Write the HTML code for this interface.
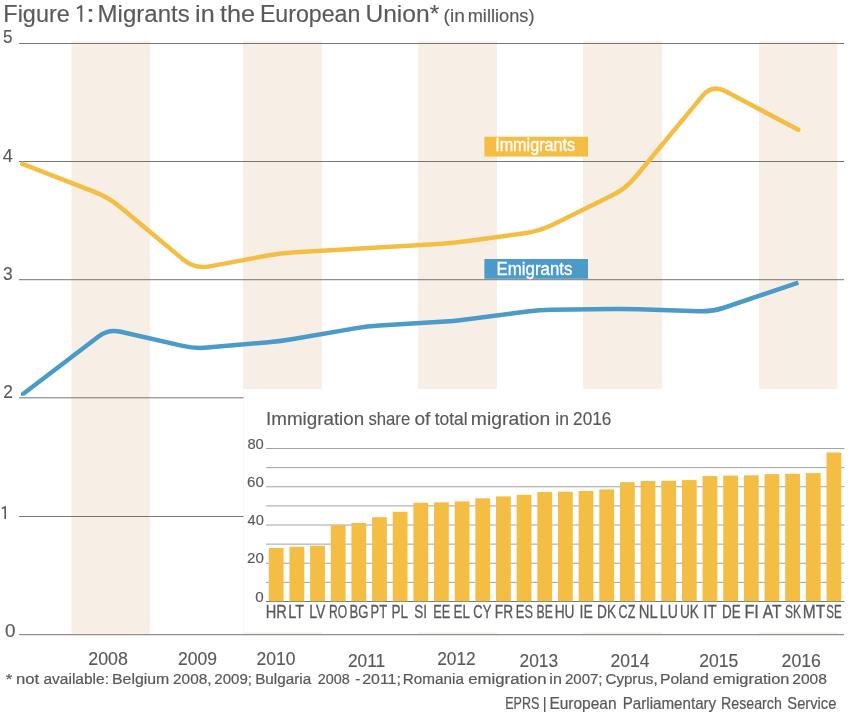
<!DOCTYPE html><html><head><meta charset="utf-8"><style>html,body{margin:0;padding:0;background:#fff;width:865px;height:720px;overflow:hidden}svg{display:block;will-change:transform}text{font-family:"Liberation Sans", sans-serif}</style></head><body>
<svg width="865" height="720" viewBox="0 0 865 720">
<rect x="71.40" y="41.5" width="78.60" height="592.5" fill="#f7eee6"/>
<rect x="243.00" y="41.5" width="79.00" height="592.5" fill="#f7eee6"/>
<rect x="418.00" y="41.5" width="79.00" height="592.5" fill="#f7eee6"/>
<rect x="583.00" y="41.5" width="79.00" height="592.5" fill="#f7eee6"/>
<rect x="759.00" y="41.5" width="78.50" height="592.5" fill="#f7eee6"/>
<rect x="19" y="43.00" width="825" height="1" fill="#767676"/>
<rect x="19" y="161.00" width="825" height="1" fill="#767676"/>
<rect x="19" y="279.20" width="825" height="1" fill="#767676"/>
<rect x="19" y="397.30" width="825" height="1" fill="#767676"/>
<rect x="19" y="516.00" width="825" height="1" fill="#767676"/>
<rect x="19" y="634.20" width="825" height="1" fill="#767676"/>
<clipPath id="ce"><rect x="21" y="0" width="844" height="395.8"/></clipPath>
<path d="M22.30,163.94 L94.46,191.93 Q108.52,197.39 120.12,207.04 L183.14,259.46 Q194.74,269.11 209.58,266.34 L266.13,255.80 Q280.97,253.03 296.03,252.20 L352.12,249.07 Q367.19,248.23 382.25,247.34 L438.35,244.02 Q453.41,243.13 468.36,241.05 L524.69,233.22 Q539.63,231.15 553.17,224.48 L612.32,195.33 Q625.86,188.66 635.46,177.03 L702.47,95.92 Q712.08,84.28 725.42,91.32 L798.30,129.74" fill="none" stroke="#f4be44" stroke-width="4.5" stroke-linecap="round" stroke-linejoin="round"/>
<path d="M19.12,396.94 L98.59,336.51 Q108.52,328.96 120.68,331.74 L182.59,345.90 Q194.74,348.69 207.17,347.60 L268.54,342.22 Q280.97,341.13 293.26,339.01 L354.90,328.36 Q367.19,326.24 379.64,325.49 L440.96,321.79 Q453.41,321.04 465.78,319.43 L527.27,311.43 Q539.63,309.82 552.10,309.67 L613.38,308.94 Q625.86,308.79 638.32,309.22 L699.61,311.31 Q712.08,311.74 723.90,307.75 L798.30,282.67" fill="none" stroke="#4a9bc9" stroke-width="4.5" stroke-linecap="butt" stroke-linejoin="round" clip-path="url(#ce)"/>
<rect x="484.4" y="136.7" width="103.6" height="19.9" fill="#f4be44"/>
<rect x="484.4" y="259" width="103.6" height="19.8" fill="#4a9bc9"/>
<rect x="243.5" y="389" width="602" height="243.5" fill="#fff"/>
<rect x="266" y="601.00" width="578.5" height="1" fill="#767676"/>
<rect x="266" y="581.88" width="578.5" height="1" fill="#a3a3a3"/>
<rect x="266" y="562.75" width="578.5" height="1" fill="#a3a3a3"/>
<rect x="266" y="543.62" width="578.5" height="1" fill="#a3a3a3"/>
<rect x="266" y="524.50" width="578.5" height="1" fill="#a3a3a3"/>
<rect x="266" y="505.38" width="578.5" height="1" fill="#a3a3a3"/>
<rect x="266" y="486.25" width="578.5" height="1" fill="#a3a3a3"/>
<rect x="266" y="467.12" width="578.5" height="1" fill="#a3a3a3"/>
<rect x="266" y="448.00" width="578.5" height="1" fill="#a3a3a3"/>
<rect x="268.80" y="548.00" width="14.8" height="53.30" fill="#f4be44"/>
<rect x="289.46" y="546.70" width="14.8" height="54.60" fill="#f4be44"/>
<rect x="310.11" y="545.80" width="14.8" height="55.50" fill="#f4be44"/>
<rect x="330.77" y="525.20" width="14.8" height="76.10" fill="#f4be44"/>
<rect x="351.42" y="523.00" width="14.8" height="78.30" fill="#f4be44"/>
<rect x="372.08" y="517.20" width="14.8" height="84.10" fill="#f4be44"/>
<rect x="392.74" y="511.80" width="14.8" height="89.50" fill="#f4be44"/>
<rect x="413.39" y="502.70" width="14.8" height="98.60" fill="#f4be44"/>
<rect x="434.05" y="502.30" width="14.8" height="99.00" fill="#f4be44"/>
<rect x="454.70" y="501.40" width="14.8" height="99.90" fill="#f4be44"/>
<rect x="475.36" y="498.30" width="14.8" height="103.00" fill="#f4be44"/>
<rect x="496.02" y="496.40" width="14.8" height="104.90" fill="#f4be44"/>
<rect x="516.67" y="494.80" width="14.8" height="106.50" fill="#f4be44"/>
<rect x="537.33" y="492.00" width="14.8" height="109.30" fill="#f4be44"/>
<rect x="557.98" y="491.70" width="14.8" height="109.60" fill="#f4be44"/>
<rect x="578.64" y="491.00" width="14.8" height="110.30" fill="#f4be44"/>
<rect x="599.30" y="489.40" width="14.8" height="111.90" fill="#f4be44"/>
<rect x="619.95" y="482.20" width="14.8" height="119.10" fill="#f4be44"/>
<rect x="640.61" y="481.00" width="14.8" height="120.30" fill="#f4be44"/>
<rect x="661.26" y="480.80" width="14.8" height="120.50" fill="#f4be44"/>
<rect x="681.92" y="480.10" width="14.8" height="121.20" fill="#f4be44"/>
<rect x="702.58" y="476.00" width="14.8" height="125.30" fill="#f4be44"/>
<rect x="723.23" y="475.60" width="14.8" height="125.70" fill="#f4be44"/>
<rect x="743.89" y="475.30" width="14.8" height="126.00" fill="#f4be44"/>
<rect x="764.54" y="474.10" width="14.8" height="127.20" fill="#f4be44"/>
<rect x="785.20" y="473.80" width="14.8" height="127.50" fill="#f4be44"/>
<rect x="805.86" y="473.10" width="14.8" height="128.20" fill="#f4be44"/>
<rect x="826.51" y="452.50" width="14.8" height="148.80" fill="#f4be44"/>
<text x="3.37" y="21.70" font-size="24.30" fill="#58595b" textLength="66.37" lengthAdjust="spacingAndGlyphs" stroke="#58595b" stroke-width="0.15">Figure</text>
<text x="86.00" y="21.70" font-size="24.30" fill="#58595b" textLength="9.02" lengthAdjust="spacingAndGlyphs" stroke="#58595b" stroke-width="0.15">:</text>
<text x="97.62" y="21.70" font-size="24.30" fill="#58595b" textLength="92.09" lengthAdjust="spacingAndGlyphs" stroke="#58595b" stroke-width="0.15">Migrants</text>
<text x="195.14" y="21.70" font-size="24.30" fill="#58595b" textLength="19.63" lengthAdjust="spacingAndGlyphs" stroke="#58595b" stroke-width="0.15">in</text>
<text x="220.04" y="21.70" font-size="24.30" fill="#58595b" textLength="35.13" lengthAdjust="spacingAndGlyphs" stroke="#58595b" stroke-width="0.15">the</text>
<text x="259.89" y="21.70" font-size="24.30" fill="#58595b" textLength="100.52" lengthAdjust="spacingAndGlyphs" stroke="#58595b" stroke-width="0.15">European</text>
<text x="365.43" y="21.70" font-size="24.30" fill="#58595b" textLength="73.83" lengthAdjust="spacingAndGlyphs" stroke="#58595b" stroke-width="0.15">Union*</text>
<text x="443.57" y="22.00" font-size="18.50" fill="#58595b" textLength="21.23" lengthAdjust="spacingAndGlyphs" stroke="#58595b" stroke-width="0.15">(in</text>
<text x="467.67" y="22.00" font-size="18.50" fill="#58595b" textLength="66.81" lengthAdjust="spacingAndGlyphs" stroke="#58595b" stroke-width="0.15">millions)</text>
<text x="3.12" y="43.00" font-size="18.75" fill="#58595b" textLength="9.51" lengthAdjust="spacingAndGlyphs" stroke="#58595b" stroke-width="0.15">5</text>
<text x="2.66" y="161.90" font-size="18.75" fill="#58595b" textLength="10.06" lengthAdjust="spacingAndGlyphs" stroke="#58595b" stroke-width="0.15">4</text>
<text x="3.05" y="279.60" font-size="18.75" fill="#58595b" textLength="9.68" lengthAdjust="spacingAndGlyphs" stroke="#58595b" stroke-width="0.15">3</text>
<text x="3.31" y="397.90" font-size="18.75" fill="#58595b" textLength="9.66" lengthAdjust="spacingAndGlyphs" stroke="#58595b" stroke-width="0.15">2</text>
<text x="5.05" y="636.50" font-size="18.75" fill="#58595b" textLength="10.44" lengthAdjust="spacingAndGlyphs" stroke="#58595b" stroke-width="0.15">0</text>
<text x="88.28" y="664.60" font-size="18.60" fill="#58595b" textLength="39.55" lengthAdjust="spacingAndGlyphs" stroke="#58595b" stroke-width="0.15">2008</text>
<text x="177.99" y="665.00" font-size="18.60" fill="#58595b" textLength="39.03" lengthAdjust="spacingAndGlyphs" stroke="#58595b" stroke-width="0.15">2009</text>
<text x="256.60" y="665.00" font-size="18.60" fill="#58595b" textLength="38.89" lengthAdjust="spacingAndGlyphs" stroke="#58595b" stroke-width="0.15">2010</text>
<text x="347.90" y="666.50" font-size="18.60" fill="#58595b" textLength="37.28" lengthAdjust="spacingAndGlyphs" stroke="#58595b" stroke-width="0.15">2011</text>
<text x="437.20" y="665.00" font-size="18.60" fill="#58595b" textLength="38.51" lengthAdjust="spacingAndGlyphs" stroke="#58595b" stroke-width="0.15">2012</text>
<text x="519.60" y="666.50" font-size="18.60" fill="#58595b" textLength="38.51" lengthAdjust="spacingAndGlyphs" stroke="#58595b" stroke-width="0.15">2013</text>
<text x="610.59" y="667.30" font-size="18.60" fill="#58595b" textLength="38.89" lengthAdjust="spacingAndGlyphs" stroke="#58595b" stroke-width="0.15">2014</text>
<text x="699.19" y="666.60" font-size="18.60" fill="#58595b" textLength="39.03" lengthAdjust="spacingAndGlyphs" stroke="#58595b" stroke-width="0.15">2015</text>
<text x="781.59" y="666.60" font-size="18.60" fill="#58595b" textLength="39.35" lengthAdjust="spacingAndGlyphs" stroke="#58595b" stroke-width="0.15">2016</text>
<text x="5.83" y="683.70" font-size="15.30" fill="#58595b" textLength="6.49" lengthAdjust="spacingAndGlyphs" stroke="#58595b" stroke-width="0.22">*</text>
<text x="15.90" y="683.70" font-size="15.30" fill="#58595b" textLength="23.31" lengthAdjust="spacingAndGlyphs" stroke="#58595b" stroke-width="0.22">not</text>
<text x="43.49" y="683.70" font-size="15.30" fill="#58595b" textLength="65.52" lengthAdjust="spacingAndGlyphs" stroke="#58595b" stroke-width="0.22">available:</text>
<text x="112.01" y="683.70" font-size="15.30" fill="#58595b" textLength="57.25" lengthAdjust="spacingAndGlyphs" stroke="#58595b" stroke-width="0.22">Belgium</text>
<text x="173.05" y="683.70" font-size="15.30" fill="#58595b" textLength="38.44" lengthAdjust="spacingAndGlyphs" stroke="#58595b" stroke-width="0.22">2008,</text>
<text x="214.36" y="683.70" font-size="15.30" fill="#58595b" textLength="37.59" lengthAdjust="spacingAndGlyphs" stroke="#58595b" stroke-width="0.22">2009;</text>
<text x="255.15" y="683.70" font-size="15.30" fill="#58595b" textLength="56.02" lengthAdjust="spacingAndGlyphs" stroke="#58595b" stroke-width="0.22">Bulgaria</text>
<text x="317.79" y="683.70" font-size="15.30" fill="#58595b" textLength="32.00" lengthAdjust="spacingAndGlyphs" stroke="#58595b" stroke-width="0.22">2008</text>
<text x="355.30" y="683.70" font-size="15.30" fill="#58595b" textLength="5.11" lengthAdjust="spacingAndGlyphs" stroke="#58595b" stroke-width="0.22">-</text>
<text x="362.22" y="683.70" font-size="15.30" fill="#58595b" textLength="38.64" lengthAdjust="spacingAndGlyphs" stroke="#58595b" stroke-width="0.22">2011;</text>
<text x="402.75" y="683.70" font-size="15.30" fill="#58595b" textLength="61.12" lengthAdjust="spacingAndGlyphs" stroke="#58595b" stroke-width="0.22">Romania</text>
<text x="468.25" y="683.70" font-size="15.30" fill="#58595b" textLength="78.26" lengthAdjust="spacingAndGlyphs" stroke="#58595b" stroke-width="0.22">emigration</text>
<text x="549.35" y="683.70" font-size="15.30" fill="#58595b" textLength="12.50" lengthAdjust="spacingAndGlyphs" stroke="#58595b" stroke-width="0.22">in</text>
<text x="564.96" y="683.70" font-size="15.30" fill="#58595b" textLength="37.59" lengthAdjust="spacingAndGlyphs" stroke="#58595b" stroke-width="0.22">2007;</text>
<text x="605.46" y="683.70" font-size="15.30" fill="#58595b" textLength="52.13" lengthAdjust="spacingAndGlyphs" stroke="#58595b" stroke-width="0.22">Cyprus,</text>
<text x="659.92" y="683.70" font-size="15.30" fill="#58595b" textLength="48.90" lengthAdjust="spacingAndGlyphs" stroke="#58595b" stroke-width="0.22">Poland</text>
<text x="712.97" y="683.70" font-size="15.30" fill="#58595b" textLength="76.42" lengthAdjust="spacingAndGlyphs" stroke="#58595b" stroke-width="0.22">emigration</text>
<text x="792.24" y="683.70" font-size="15.30" fill="#58595b" textLength="34.60" lengthAdjust="spacingAndGlyphs" stroke="#58595b" stroke-width="0.22">2008</text>
<text x="505.25" y="708.60" font-size="16.40" fill="#58595b" textLength="34.04" lengthAdjust="spacingAndGlyphs" stroke="#58595b" stroke-width="0.22">EPRS</text>
<text x="542.54" y="708.60" font-size="16.40" fill="#58595b" textLength="4.44" lengthAdjust="spacingAndGlyphs">|</text>
<text x="549.42" y="708.60" font-size="16.40" fill="#58595b" textLength="67.18" lengthAdjust="spacingAndGlyphs" stroke="#58595b" stroke-width="0.22">European</text>
<text x="622.74" y="708.60" font-size="16.40" fill="#58595b" textLength="93.47" lengthAdjust="spacingAndGlyphs" stroke="#58595b" stroke-width="0.22">Parliamentary</text>
<text x="721.02" y="708.60" font-size="16.40" fill="#58595b" textLength="60.77" lengthAdjust="spacingAndGlyphs" stroke="#58595b" stroke-width="0.22">Research</text>
<text x="787.33" y="708.60" font-size="16.40" fill="#58595b" textLength="49.06" lengthAdjust="spacingAndGlyphs" stroke="#58595b" stroke-width="0.22">Service</text>
<text x="495.15" y="150.80" font-size="18.00" fill="#fff" textLength="79.91" lengthAdjust="spacingAndGlyphs" stroke="#fff" stroke-width="0.35">Immigrants</text>
<text x="496.60" y="274.70" font-size="18.00" fill="#fff" textLength="75.80" lengthAdjust="spacingAndGlyphs" stroke="#fff" stroke-width="0.35">Emigrants</text>
<text x="266.05" y="425.00" font-size="18.75" fill="#58595b" textLength="98.16" lengthAdjust="spacingAndGlyphs" stroke="#58595b" stroke-width="0.15">Immigration</text>
<text x="368.46" y="425.00" font-size="18.75" fill="#58595b" textLength="41.73" lengthAdjust="spacingAndGlyphs" stroke="#58595b" stroke-width="0.15">share</text>
<text x="414.44" y="425.00" font-size="18.75" fill="#58595b" textLength="15.95" lengthAdjust="spacingAndGlyphs" stroke="#58595b" stroke-width="0.15">of</text>
<text x="434.67" y="425.00" font-size="18.75" fill="#58595b" textLength="32.95" lengthAdjust="spacingAndGlyphs" stroke="#58595b" stroke-width="0.15">total</text>
<text x="470.81" y="425.00" font-size="18.75" fill="#58595b" textLength="79.55" lengthAdjust="spacingAndGlyphs" stroke="#58595b" stroke-width="0.15">migration</text>
<text x="555.33" y="425.00" font-size="18.75" fill="#58595b" textLength="13.70" lengthAdjust="spacingAndGlyphs" stroke="#58595b" stroke-width="0.15">in</text>
<text x="573.11" y="425.00" font-size="18.75" fill="#58595b" textLength="38.25" lengthAdjust="spacingAndGlyphs" stroke="#58595b" stroke-width="0.15">2016</text>
<text x="255.20" y="601.70" font-size="15.20" fill="#58595b" textLength="8.45" lengthAdjust="spacingAndGlyphs" stroke="#58595b" stroke-width="0.15">0</text>
<text x="247.05" y="563.41" font-size="15.20" fill="#58595b" textLength="16.80" lengthAdjust="spacingAndGlyphs" stroke="#58595b" stroke-width="0.15">20</text>
<text x="247.56" y="525.12" font-size="15.20" fill="#58595b" textLength="16.27" lengthAdjust="spacingAndGlyphs" stroke="#58595b" stroke-width="0.15">40</text>
<text x="247.05" y="486.83" font-size="15.20" fill="#58595b" textLength="16.80" lengthAdjust="spacingAndGlyphs" stroke="#58595b" stroke-width="0.15">60</text>
<text x="247.41" y="448.54" font-size="15.20" fill="#58595b" textLength="16.42" lengthAdjust="spacingAndGlyphs" stroke="#58595b" stroke-width="0.15">80</text>
<text x="265.72" y="617.70" font-size="18.50" fill="#58595b" textLength="21.06" lengthAdjust="spacingAndGlyphs" stroke="#58595b" stroke-width="0.30">HR</text>
<text x="288.33" y="617.70" font-size="18.50" fill="#58595b" textLength="15.74" lengthAdjust="spacingAndGlyphs" stroke="#58595b" stroke-width="0.30">LT</text>
<text x="309.16" y="617.70" font-size="18.50" fill="#58595b" textLength="16.15" lengthAdjust="spacingAndGlyphs" stroke="#58595b" stroke-width="0.30">LV</text>
<text x="329.02" y="617.70" font-size="18.50" fill="#58595b" textLength="18.17" lengthAdjust="spacingAndGlyphs" stroke="#58595b" stroke-width="0.30">RO</text>
<text x="349.44" y="617.70" font-size="18.50" fill="#58595b" textLength="18.94" lengthAdjust="spacingAndGlyphs" stroke="#58595b" stroke-width="0.30">BG</text>
<text x="370.54" y="617.70" font-size="18.50" fill="#58595b" textLength="16.63" lengthAdjust="spacingAndGlyphs" stroke="#58595b" stroke-width="0.30">PT</text>
<text x="391.50" y="617.70" font-size="18.50" fill="#58595b" textLength="16.57" lengthAdjust="spacingAndGlyphs" stroke="#58595b" stroke-width="0.30">PL</text>
<text x="414.25" y="617.70" font-size="18.50" fill="#58595b" textLength="12.82" lengthAdjust="spacingAndGlyphs" stroke="#58595b" stroke-width="0.30">SI</text>
<text x="433.17" y="617.70" font-size="18.50" fill="#58595b" textLength="17.01" lengthAdjust="spacingAndGlyphs" stroke="#58595b" stroke-width="0.30">EE</text>
<text x="453.52" y="617.70" font-size="18.50" fill="#58595b" textLength="16.35" lengthAdjust="spacingAndGlyphs" stroke="#58595b" stroke-width="0.30">EL</text>
<text x="473.30" y="617.70" font-size="18.50" fill="#58595b" textLength="18.02" lengthAdjust="spacingAndGlyphs" stroke="#58595b" stroke-width="0.30">CY</text>
<text x="494.79" y="617.70" font-size="18.50" fill="#58595b" textLength="18.30" lengthAdjust="spacingAndGlyphs" stroke="#58595b" stroke-width="0.30">FR</text>
<text x="515.86" y="617.70" font-size="18.50" fill="#58595b" textLength="17.09" lengthAdjust="spacingAndGlyphs" stroke="#58595b" stroke-width="0.30">ES</text>
<text x="536.61" y="617.70" font-size="18.50" fill="#58595b" textLength="16.35" lengthAdjust="spacingAndGlyphs" stroke="#58595b" stroke-width="0.30">BE</text>
<text x="554.69" y="617.70" font-size="18.50" fill="#58595b" textLength="19.83" lengthAdjust="spacingAndGlyphs" stroke="#58595b" stroke-width="0.30">HU</text>
<text x="579.47" y="617.70" font-size="18.50" fill="#58595b" textLength="13.29" lengthAdjust="spacingAndGlyphs" stroke="#58595b" stroke-width="0.30">IE</text>
<text x="597.09" y="617.70" font-size="18.50" fill="#58595b" textLength="19.06" lengthAdjust="spacingAndGlyphs" stroke="#58595b" stroke-width="0.30">DK</text>
<text x="618.62" y="617.70" font-size="18.50" fill="#58595b" textLength="16.77" lengthAdjust="spacingAndGlyphs" stroke="#58595b" stroke-width="0.30">CZ</text>
<text x="638.79" y="617.70" font-size="18.50" fill="#58595b" textLength="19.04" lengthAdjust="spacingAndGlyphs" stroke="#58595b" stroke-width="0.30">NL</text>
<text x="659.87" y="617.70" font-size="18.50" fill="#58595b" textLength="17.90" lengthAdjust="spacingAndGlyphs" stroke="#58595b" stroke-width="0.30">LU</text>
<text x="679.88" y="617.70" font-size="18.50" fill="#58595b" textLength="18.87" lengthAdjust="spacingAndGlyphs" stroke="#58595b" stroke-width="0.30">UK</text>
<text x="703.26" y="617.70" font-size="18.50" fill="#58595b" textLength="13.51" lengthAdjust="spacingAndGlyphs" stroke="#58595b" stroke-width="0.30">IT</text>
<text x="722.01" y="617.70" font-size="18.50" fill="#58595b" textLength="18.59" lengthAdjust="spacingAndGlyphs" stroke="#58595b" stroke-width="0.30">DE</text>
<text x="744.38" y="617.70" font-size="18.50" fill="#58595b" textLength="14.53" lengthAdjust="spacingAndGlyphs" stroke="#58595b" stroke-width="0.30">FI</text>
<text x="762.70" y="617.70" font-size="18.50" fill="#58595b" textLength="18.84" lengthAdjust="spacingAndGlyphs" stroke="#58595b" stroke-width="0.30">AT</text>
<text x="784.91" y="617.70" font-size="18.50" fill="#58595b" textLength="16.01" lengthAdjust="spacingAndGlyphs" stroke="#58595b" stroke-width="0.30">SK</text>
<text x="802.74" y="617.70" font-size="18.50" fill="#58595b" textLength="22.44" lengthAdjust="spacingAndGlyphs" stroke="#58595b" stroke-width="0.30">MT</text>
<text x="826.23" y="617.70" font-size="18.50" fill="#58595b" textLength="15.40" lengthAdjust="spacingAndGlyphs" stroke="#58595b" stroke-width="0.30">SE</text>
<path d="M81.30,5.50 L81.30,21.70 M77.00,8.50 L81.90,5.70" stroke="#58595b" stroke-width="2.00" fill="none" stroke-linecap="butt"/>
<path d="M5.20,506.30 L5.20,518.90 M1.90,508.58 L5.68,506.50" stroke="#58595b" stroke-width="1.60" fill="none" stroke-linecap="butt"/>
</svg></body></html>
